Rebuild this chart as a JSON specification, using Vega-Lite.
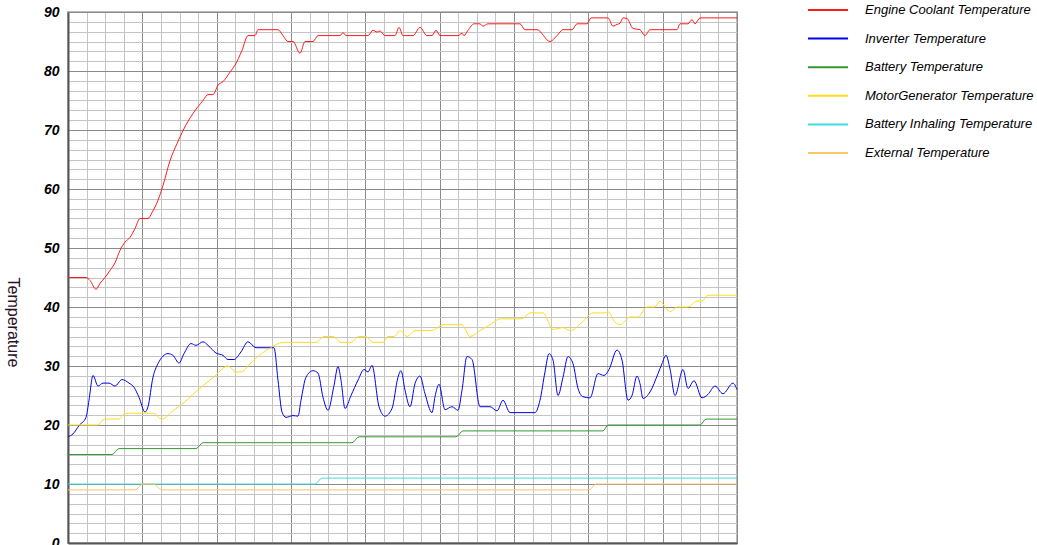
{
  "$schema": "https://vega.github.io/schema/vega-lite/v6.json",
  "width": 669,
  "height": 531,
  "autosize": "none",
  "padding": {"left": 68, "top": 12, "right": 300, "bottom": 2},
  "background": "white",
  "datasets": {
    "temps": [
      {"s":"Engine Coolant Temperature","t":0,"v":45},{"s":"Engine Coolant Temperature","t":18,"v":45},{"s":"Engine Coolant Temperature","t":22,"v":44.5},{"s":"Engine Coolant Temperature","t":28,"v":43},{"s":"Engine Coolant Temperature","t":32,"v":44},{"s":"Engine Coolant Temperature","t":37,"v":45},{"s":"Engine Coolant Temperature","t":42,"v":46.2},{"s":"Engine Coolant Temperature","t":47,"v":47.5},{"s":"Engine Coolant Temperature","t":52,"v":49.6},{"s":"Engine Coolant Temperature","t":57,"v":51},{"s":"Engine Coolant Temperature","t":62,"v":51.8},{"s":"Engine Coolant Temperature","t":67,"v":53.3},{"s":"Engine Coolant Temperature","t":72,"v":55},{"s":"Engine Coolant Temperature","t":80,"v":55},{"s":"Engine Coolant Temperature","t":84,"v":56},{"s":"Engine Coolant Temperature","t":90,"v":58.1},{"s":"Engine Coolant Temperature","t":95,"v":60.6},{"s":"Engine Coolant Temperature","t":102,"v":64.8},{"s":"Engine Coolant Temperature","t":109,"v":67.7},{"s":"Engine Coolant Temperature","t":115,"v":69.9},{"s":"Engine Coolant Temperature","t":125,"v":72.8},{"s":"Engine Coolant Temperature","t":135,"v":75},{"s":"Engine Coolant Temperature","t":140,"v":76},{"s":"Engine Coolant Temperature","t":145,"v":76},{"s":"Engine Coolant Temperature","t":150,"v":77.6},{"s":"Engine Coolant Temperature","t":155,"v":78.2},{"s":"Engine Coolant Temperature","t":162,"v":79.8},{"s":"Engine Coolant Temperature","t":167,"v":81},{"s":"Engine Coolant Temperature","t":174,"v":83.5},{"s":"Engine Coolant Temperature","t":180,"v":86},{"s":"Engine Coolant Temperature","t":187,"v":86},{"s":"Engine Coolant Temperature","t":190,"v":87},{"s":"Engine Coolant Temperature","t":210,"v":87},{"s":"Engine Coolant Temperature","t":215,"v":86},{"s":"Engine Coolant Temperature","t":220,"v":85},{"s":"Engine Coolant Temperature","t":225,"v":85},{"s":"Engine Coolant Temperature","t":232,"v":83},{"s":"Engine Coolant Temperature","t":237,"v":85},{"s":"Engine Coolant Temperature","t":245,"v":85},{"s":"Engine Coolant Temperature","t":250,"v":86},{"s":"Engine Coolant Temperature","t":272,"v":86},{"s":"Engine Coolant Temperature","t":275,"v":86.5},{"s":"Engine Coolant Temperature","t":278,"v":86},{"s":"Engine Coolant Temperature","t":300,"v":86},{"s":"Engine Coolant Temperature","t":305,"v":86.9},{"s":"Engine Coolant Temperature","t":309,"v":86.6},{"s":"Engine Coolant Temperature","t":312,"v":86.8},{"s":"Engine Coolant Temperature","t":317,"v":86},{"s":"Engine Coolant Temperature","t":327,"v":86},{"s":"Engine Coolant Temperature","t":331,"v":87.4},{"s":"Engine Coolant Temperature","t":335,"v":86},{"s":"Engine Coolant Temperature","t":345,"v":86},{"s":"Engine Coolant Temperature","t":352,"v":87.4},{"s":"Engine Coolant Temperature","t":359,"v":86},{"s":"Engine Coolant Temperature","t":364,"v":86},{"s":"Engine Coolant Temperature","t":368,"v":86.9},{"s":"Engine Coolant Temperature","t":372,"v":86},{"s":"Engine Coolant Temperature","t":390,"v":86},{"s":"Engine Coolant Temperature","t":394,"v":86.4},{"s":"Engine Coolant Temperature","t":396,"v":86},{"s":"Engine Coolant Temperature","t":400,"v":86.9},{"s":"Engine Coolant Temperature","t":406,"v":88},{"s":"Engine Coolant Temperature","t":412,"v":88},{"s":"Engine Coolant Temperature","t":415,"v":87.6},{"s":"Engine Coolant Temperature","t":420,"v":88},{"s":"Engine Coolant Temperature","t":452,"v":88},{"s":"Engine Coolant Temperature","t":457,"v":87},{"s":"Engine Coolant Temperature","t":469,"v":87},{"s":"Engine Coolant Temperature","t":482,"v":85},{"s":"Engine Coolant Temperature","t":489,"v":86},{"s":"Engine Coolant Temperature","t":495,"v":87},{"s":"Engine Coolant Temperature","t":504,"v":87},{"s":"Engine Coolant Temperature","t":509,"v":88},{"s":"Engine Coolant Temperature","t":519,"v":88},{"s":"Engine Coolant Temperature","t":523,"v":89},{"s":"Engine Coolant Temperature","t":540,"v":89},{"s":"Engine Coolant Temperature","t":545,"v":87.6},{"s":"Engine Coolant Temperature","t":549,"v":87.9},{"s":"Engine Coolant Temperature","t":552,"v":88.1},{"s":"Engine Coolant Temperature","t":555,"v":89},{"s":"Engine Coolant Temperature","t":559,"v":88.9},{"s":"Engine Coolant Temperature","t":565,"v":87.2},{"s":"Engine Coolant Temperature","t":572,"v":87},{"s":"Engine Coolant Temperature","t":577,"v":86},{"s":"Engine Coolant Temperature","t":582,"v":87},{"s":"Engine Coolant Temperature","t":609,"v":87},{"s":"Engine Coolant Temperature","t":612,"v":88},{"s":"Engine Coolant Temperature","t":620,"v":88},{"s":"Engine Coolant Temperature","t":624,"v":88.7},{"s":"Engine Coolant Temperature","t":627,"v":88},{"s":"Engine Coolant Temperature","t":632,"v":89},{"s":"Engine Coolant Temperature","t":669,"v":89},

      {"s":"Inverter Temperature","t":0,"v":18},{"s":"Inverter Temperature","t":5,"v":18.5},{"s":"Inverter Temperature","t":11,"v":19.9},{"s":"Inverter Temperature","t":18,"v":21.3},{"s":"Inverter Temperature","t":21,"v":24.2},{"s":"Inverter Temperature","t":25,"v":28.4},{"s":"Inverter Temperature","t":30,"v":26.6},{"s":"Inverter Temperature","t":35,"v":27.1},{"s":"Inverter Temperature","t":41,"v":27.1},{"s":"Inverter Temperature","t":47,"v":26.6},{"s":"Inverter Temperature","t":54,"v":27.7},{"s":"Inverter Temperature","t":61,"v":27.1},{"s":"Inverter Temperature","t":66,"v":26.4},{"s":"Inverter Temperature","t":71,"v":24.7},{"s":"Inverter Temperature","t":77,"v":22.2},{"s":"Inverter Temperature","t":80,"v":23.1},{"s":"Inverter Temperature","t":85,"v":28.1},{"s":"Inverter Temperature","t":90,"v":30.4},{"s":"Inverter Temperature","t":100,"v":32.1},{"s":"Inverter Temperature","t":105,"v":31.8},{"s":"Inverter Temperature","t":111,"v":30.5},{"s":"Inverter Temperature","t":116,"v":32.1},{"s":"Inverter Temperature","t":123,"v":33.8},{"s":"Inverter Temperature","t":128,"v":33.5},{"s":"Inverter Temperature","t":135,"v":34.1},{"s":"Inverter Temperature","t":140,"v":33.5},{"s":"Inverter Temperature","t":148,"v":32.2},{"s":"Inverter Temperature","t":155,"v":31.8},{"s":"Inverter Temperature","t":160,"v":31.1},{"s":"Inverter Temperature","t":166,"v":31.1},{"s":"Inverter Temperature","t":173,"v":32.4},{"s":"Inverter Temperature","t":180,"v":34.1},{"s":"Inverter Temperature","t":188,"v":33.1},{"s":"Inverter Temperature","t":206,"v":33.1},{"s":"Inverter Temperature","t":210,"v":27.6},{"s":"Inverter Temperature","t":214,"v":22.2},{"s":"Inverter Temperature","t":218,"v":21.3},{"s":"Inverter Temperature","t":225,"v":21.6},{"s":"Inverter Temperature","t":230,"v":21.5},{"s":"Inverter Temperature","t":233,"v":24.2},{"s":"Inverter Temperature","t":238,"v":28.1},{"s":"Inverter Temperature","t":245,"v":29.2},{"s":"Inverter Temperature","t":250,"v":28.8},{"s":"Inverter Temperature","t":255,"v":24.7},{"s":"Inverter Temperature","t":260,"v":22.5},{"s":"Inverter Temperature","t":266,"v":26.7},{"s":"Inverter Temperature","t":270,"v":29.9},{"s":"Inverter Temperature","t":273,"v":27.6},{"s":"Inverter Temperature","t":277,"v":22.8},{"s":"Inverter Temperature","t":283,"v":25},{"s":"Inverter Temperature","t":290,"v":27.6},{"s":"Inverter Temperature","t":296,"v":29.4},{"s":"Inverter Temperature","t":300,"v":29},{"s":"Inverter Temperature","t":304,"v":30.1},{"s":"Inverter Temperature","t":311,"v":23.1},{"s":"Inverter Temperature","t":317,"v":21.5},{"s":"Inverter Temperature","t":324,"v":22.8},{"s":"Inverter Temperature","t":330,"v":28.1},{"s":"Inverter Temperature","t":333,"v":29.2},{"s":"Inverter Temperature","t":337,"v":25.9},{"s":"Inverter Temperature","t":342,"v":23.1},{"s":"Inverter Temperature","t":347,"v":27},{"s":"Inverter Temperature","t":352,"v":28.3},{"s":"Inverter Temperature","t":357,"v":25.3},{"s":"Inverter Temperature","t":364,"v":22.1},{"s":"Inverter Temperature","t":367,"v":24.8},{"s":"Inverter Temperature","t":371,"v":26.9},{"s":"Inverter Temperature","t":377,"v":22.6},{"s":"Inverter Temperature","t":384,"v":23.1},{"s":"Inverter Temperature","t":390,"v":22.5},{"s":"Inverter Temperature","t":394,"v":25.9},{"s":"Inverter Temperature","t":399,"v":31.6},{"s":"Inverter Temperature","t":404,"v":31.1},{"s":"Inverter Temperature","t":412,"v":23.1},{"s":"Inverter Temperature","t":422,"v":23.1},{"s":"Inverter Temperature","t":429,"v":22.4},{"s":"Inverter Temperature","t":435,"v":24.2},{"s":"Inverter Temperature","t":442,"v":22.1},{"s":"Inverter Temperature","t":467,"v":22.1},{"s":"Inverter Temperature","t":472,"v":24.2},{"s":"Inverter Temperature","t":477,"v":29},{"s":"Inverter Temperature","t":481,"v":32.1},{"s":"Inverter Temperature","t":485,"v":31},{"s":"Inverter Temperature","t":490,"v":25},{"s":"Inverter Temperature","t":495,"v":28.1},{"s":"Inverter Temperature","t":500,"v":31.6},{"s":"Inverter Temperature","t":505,"v":30.4},{"s":"Inverter Temperature","t":510,"v":26.2},{"s":"Inverter Temperature","t":515,"v":24.8},{"s":"Inverter Temperature","t":522,"v":24.6},{"s":"Inverter Temperature","t":530,"v":28.7},{"s":"Inverter Temperature","t":536,"v":28.4},{"s":"Inverter Temperature","t":541,"v":29.4},{"s":"Inverter Temperature","t":549,"v":32.7},{"s":"Inverter Temperature","t":554,"v":31},{"s":"Inverter Temperature","t":560,"v":24.2},{"s":"Inverter Temperature","t":564,"v":25},{"s":"Inverter Temperature","t":569,"v":28.3},{"s":"Inverter Temperature","t":572,"v":27},{"s":"Inverter Temperature","t":575,"v":24.5},{"s":"Inverter Temperature","t":582,"v":25.6},{"s":"Inverter Temperature","t":590,"v":28.7},{"s":"Inverter Temperature","t":594,"v":30.4},{"s":"Inverter Temperature","t":598,"v":31.8},{"s":"Inverter Temperature","t":602,"v":29.5},{"s":"Inverter Temperature","t":607,"v":25},{"s":"Inverter Temperature","t":615,"v":29.4},{"s":"Inverter Temperature","t":620,"v":26.2},{"s":"Inverter Temperature","t":626,"v":27.5},{"s":"Inverter Temperature","t":634,"v":24.6},{"s":"Inverter Temperature","t":640,"v":25.2},{"s":"Inverter Temperature","t":647,"v":26.6},{"s":"Inverter Temperature","t":655,"v":25.3},{"s":"Inverter Temperature","t":665,"v":27.1},{"s":"Inverter Temperature","t":669,"v":26},

      {"s":"Battery Temperature","t":0,"v":15},{"s":"Battery Temperature","t":44,"v":15},{"s":"Battery Temperature","t":51,"v":16},{"s":"Battery Temperature","t":128,"v":16},{"s":"Battery Temperature","t":135,"v":17},{"s":"Battery Temperature","t":284,"v":17},{"s":"Battery Temperature","t":291,"v":18},{"s":"Battery Temperature","t":388,"v":18},{"s":"Battery Temperature","t":395,"v":19},{"s":"Battery Temperature","t":535,"v":19},{"s":"Battery Temperature","t":540,"v":20},{"s":"Battery Temperature","t":632,"v":20},{"s":"Battery Temperature","t":638,"v":21},{"s":"Battery Temperature","t":669,"v":21},

      {"s":"MotorGenerator Temperature","t":0,"v":20},{"s":"MotorGenerator Temperature","t":30,"v":20},{"s":"MotorGenerator Temperature","t":36,"v":21},{"s":"MotorGenerator Temperature","t":51,"v":21},{"s":"MotorGenerator Temperature","t":57,"v":22},{"s":"MotorGenerator Temperature","t":85,"v":22},{"s":"MotorGenerator Temperature","t":94,"v":21},{"s":"MotorGenerator Temperature","t":105,"v":22.4},{"s":"MotorGenerator Temperature","t":118,"v":24.1},{"s":"MotorGenerator Temperature","t":131,"v":26.1},{"s":"MotorGenerator Temperature","t":145,"v":28},{"s":"MotorGenerator Temperature","t":160,"v":30},{"s":"MotorGenerator Temperature","t":168,"v":29},{"s":"MotorGenerator Temperature","t":173,"v":29},{"s":"MotorGenerator Temperature","t":185,"v":30.9},{"s":"MotorGenerator Temperature","t":198,"v":32.6},{"s":"MotorGenerator Temperature","t":216,"v":34},{"s":"MotorGenerator Temperature","t":248,"v":34},{"s":"MotorGenerator Temperature","t":256,"v":35},{"s":"MotorGenerator Temperature","t":265,"v":35},{"s":"MotorGenerator Temperature","t":273,"v":34},{"s":"MotorGenerator Temperature","t":283,"v":34},{"s":"MotorGenerator Temperature","t":291,"v":35},{"s":"MotorGenerator Temperature","t":298,"v":35},{"s":"MotorGenerator Temperature","t":305,"v":34},{"s":"MotorGenerator Temperature","t":315,"v":34},{"s":"MotorGenerator Temperature","t":320,"v":35},{"s":"MotorGenerator Temperature","t":326,"v":35},{"s":"MotorGenerator Temperature","t":332,"v":36},{"s":"MotorGenerator Temperature","t":339,"v":35},{"s":"MotorGenerator Temperature","t":347,"v":36},{"s":"MotorGenerator Temperature","t":364,"v":36},{"s":"MotorGenerator Temperature","t":375,"v":37},{"s":"MotorGenerator Temperature","t":394,"v":37},{"s":"MotorGenerator Temperature","t":402,"v":35},{"s":"MotorGenerator Temperature","t":412,"v":36},{"s":"MotorGenerator Temperature","t":424,"v":37.2},{"s":"MotorGenerator Temperature","t":432,"v":38},{"s":"MotorGenerator Temperature","t":454,"v":38},{"s":"MotorGenerator Temperature","t":462,"v":39},{"s":"MotorGenerator Temperature","t":475,"v":39},{"s":"MotorGenerator Temperature","t":485,"v":36.2},{"s":"MotorGenerator Temperature","t":495,"v":36.5},{"s":"MotorGenerator Temperature","t":502,"v":36},{"s":"MotorGenerator Temperature","t":514,"v":37.4},{"s":"MotorGenerator Temperature","t":525,"v":39},{"s":"MotorGenerator Temperature","t":537,"v":39},{"s":"MotorGenerator Temperature","t":540,"v":39.2},{"s":"MotorGenerator Temperature","t":547,"v":37.4},{"s":"MotorGenerator Temperature","t":552,"v":37},{"s":"MotorGenerator Temperature","t":562,"v":38.3},{"s":"MotorGenerator Temperature","t":570,"v":38.3},{"s":"MotorGenerator Temperature","t":579,"v":40},{"s":"MotorGenerator Temperature","t":587,"v":40},{"s":"MotorGenerator Temperature","t":592,"v":41},{"s":"MotorGenerator Temperature","t":595,"v":40.5},{"s":"MotorGenerator Temperature","t":602,"v":39.2},{"s":"MotorGenerator Temperature","t":609,"v":40},{"s":"MotorGenerator Temperature","t":620,"v":40},{"s":"MotorGenerator Temperature","t":629,"v":41},{"s":"MotorGenerator Temperature","t":634,"v":41},{"s":"MotorGenerator Temperature","t":640,"v":42},{"s":"MotorGenerator Temperature","t":669,"v":42},

      {"s":"Battery Inhaling Temperature","t":0,"v":10},{"s":"Battery Inhaling Temperature","t":247,"v":10},{"s":"Battery Inhaling Temperature","t":254,"v":11},{"s":"Battery Inhaling Temperature","t":669,"v":11},

      {"s":"External Temperature","t":0,"v":9},{"s":"External Temperature","t":67,"v":9},{"s":"External Temperature","t":75,"v":10},{"s":"External Temperature","t":85,"v":10},{"s":"External Temperature","t":94,"v":9},{"s":"External Temperature","t":521,"v":9},{"s":"External Temperature","t":528,"v":10},{"s":"External Temperature","t":669,"v":10}
    ]
  },
  "data": {"name": "temps"},
  "mark": {"type": "line", "strokeWidth": 1, "interpolate": "monotone"},
  "encoding": {
    "x": {
      "field": "t",
      "type": "quantitative",
      "scale": {"domain": [0, 669], "nice": false, "zero": false},
      "axis": {
        "title": null,
        "labels": false,
        "ticks": false,
        "domainColor": "#555555",
        "domainWidth": 2,
        "values": [0, 18.58, 37.17, 55.75, 74.33, 92.92, 111.5, 130.08, 148.67, 167.25, 185.83, 204.42, 223, 241.58, 260.17, 278.75, 297.33, 315.92, 334.5, 353.08, 371.67, 390.25, 408.83, 427.42, 446, 464.58, 483.17, 501.75, 520.33, 538.92, 557.5, 576.08, 594.67, 613.25, 631.83, 650.42, 669],
        "gridColor": {
          "condition": {"test": "abs(datum.value / 74.333 - round(datum.value / 74.333)) < 0.01", "value": "#8a8a8a"},
          "value": "#c4c4c4"
        }
      }
    },
    "y": {
      "field": "v",
      "type": "quantitative",
      "scale": {"domain": [0, 90], "nice": false},
      "axis": {
        "title": "Temperature",
        "titleAngle": 90,
        "titleAlign": "center",
        "titleBaseline": "middle",
        "titleX": -56,
        "titleY": 310,
        "titleFont": "Liberation Sans",
        "titleFontSize": 16,
        "titleFontWeight": "normal",
        "titleColor": "#2a102a",
        "ticks": false,
        "labelPadding": 9,
        "labelFont": "Liberation Sans",
        "labelFontSize": 14,
        "labelFontWeight": "bold",
        "labelFontStyle": "italic",
        "labelColor": "#000000",
        "labelExpr": "datum.value % 10 == 0 ? datum.label : ''",
        "domainColor": "#555555",
        "domainWidth": 2,
        "values": [0, 1.6667, 3.3333, 5, 6.6667, 8.3333, 10, 11.6667, 13.3333, 15, 16.6667, 18.3333, 20, 21.6667, 23.3333, 25, 26.6667, 28.3333, 30, 31.6667, 33.3333, 35, 36.6667, 38.3333, 40, 41.6667, 43.3333, 45, 46.6667, 48.3333, 50, 51.6667, 53.3333, 55, 56.6667, 58.3333, 60, 61.6667, 63.3333, 65, 66.6667, 68.3333, 70, 71.6667, 73.3333, 75, 76.6667, 78.3333, 80, 81.6667, 83.3333, 85, 86.6667, 88.3333, 90],
        "gridColor": {
          "condition": {"test": "datum.value % 10 == 0", "value": "#8a8a8a"},
          "value": "#c4c4c4"
        }
      }
    },
    "color": {
      "field": "s",
      "type": "nominal",
      "scale": {
        "domain": ["Engine Coolant Temperature", "Inverter Temperature", "Battery Temperature", "MotorGenerator Temperature", "Battery Inhaling Temperature", "External Temperature"],
        "range": ["#ff1a1a", "#0000ee", "#339933", "#ffdc1e", "#40dede", "#ffc766"]
      },
      "legend": {
        "title": null,
        "orient": "none",
        "legendX": 739,
        "legendY": -23,
        "padding": 0,
        "symbolType": "stroke",
        "symbolSize": 1600,
        "symbolStrokeWidth": 2,
        "labelOffset": 16,
        "labelFont": "Liberation Sans",
        "labelFontSize": 13,
        "labelFontStyle": "italic",
        "labelColor": "#000000",
        "labelLimit": 300,
        "rowPadding": 0.6
      }
    }
  },
  "config": {
    "view": {"stroke": "#bbbbbb", "strokeWidth": 2},
    "axis": {"grid": true, "gridWidth": 1, "gridOpacity": 1}
  }
}
